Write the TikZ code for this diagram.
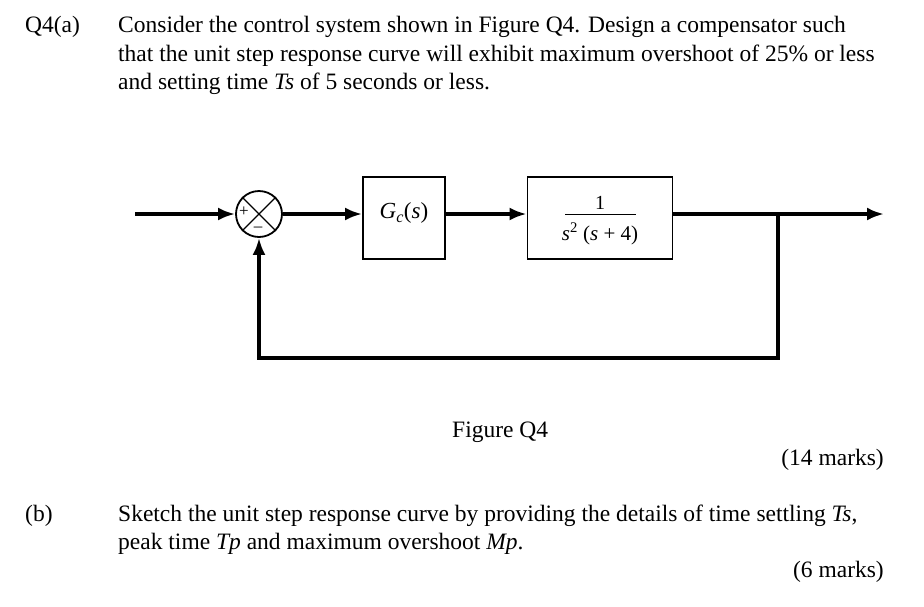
\documentclass[tikz,border=0pt]{standalone}
\usepackage{fontspec}
\setmainfont{Liberation Serif}
\usetikzlibrary{arrows.meta,shapes.geometric}
\begin{document}
\begin{tikzpicture}[x=1pt,y=-1pt,
  txt/.style={anchor=base west,inner sep=0,font=\fontsize{23.5}{28}\selectfont},
  blk/.style={draw,line width=1.8pt,inner sep=0},
  sig/.style={line width=4.5pt,-{Latex[length=17pt,width=13pt]}},
  ln/.style={line width=4.5pt}]
\useasboundingbox (0,0) rectangle (924,606);
\node[txt] (qa) at (25,32) {Q4(a)};
\node[txt] (l1) at (118,32) {Consider the control system shown in Figure Q4. Design a compensator such};
\node[txt] (l2) at (118,61) {that the unit step response curve will exhibit maximum overshoot of 25\% or less};
\node[txt] (l3) at (118,89) {and setting time \textit{Ts} of 5 seconds or less.};
% diagram
\node[draw,line width=1.8pt,ellipse,minimum width=46pt,minimum height=46pt] (sum) at (259,214) {};
\draw[line width=1.2pt] (sum.north west) -- (sum.south east) (sum.north east) -- (sum.south west);
\node[font=\fontsize{17}{17}\selectfont,inner sep=0] (plus) at (244,212) {+};
\node[font=\fontsize{17}{17}\selectfont,inner sep=0] (minus) at (258,229) {–};
\node[blk,minimum width=82pt,minimum height=82pt] (gc) at (404,218) {};
\node[font=\fontsize{23}{23}\selectfont,inner sep=0] (gct) at (404,213) {\textit{G}\textsubscript{\textit{c}}(\textit{s})};
\node[blk,minimum width=145pt,minimum height=82pt] (gp) at (600,218) {};
\node[font=\fontsize{20}{20}\selectfont,inner sep=0] (num) at (600,203) {1};
\draw[line width=0.8pt] (565,214) -- (636,214);
\node[font=\fontsize{21}{21}\selectfont,inner sep=0] (den) at (600,234) {\textit{s}\textsuperscript{2} (\textit{s} + 4)};
\coordinate (in) at (135,214);
\coordinate (out) at (884,214);
\coordinate (tap) at (778,214);
\coordinate (b1) at (778,358);
\coordinate (b2) at (259,358);
\draw[sig] (in) -- (sum.west);
\draw[sig] (sum.east) -- (gc.west |- sum.east);
\draw[sig] (gc.east |- sum.east) -- (gp.west |- sum.east);
\draw[sig] (gp.east |- sum.east) -- (out);
\draw[ln] (tap) -- (b1) -- (b2) -- ++(0,-2.25);
\draw[sig] (b2) -- (sum.south);
\node[txt] (fig) at (452,437) {Figure Q4};
\node[txt,anchor=base east] (m1) at (884,465) {(14 marks)};
\node[txt] (qb) at (25,521) {(b)};
\node[txt] (b1t) at (118,521) {Sketch the unit step response curve by providing the details of time settling \textit{Ts},};
\node[txt] (b2t) at (118,549) {peak time \textit{Tp} and maximum overshoot \textit{Mp}.};
\node[txt,anchor=base east] (m2) at (884,577) {(6 marks)};
\end{tikzpicture}
\end{document}
